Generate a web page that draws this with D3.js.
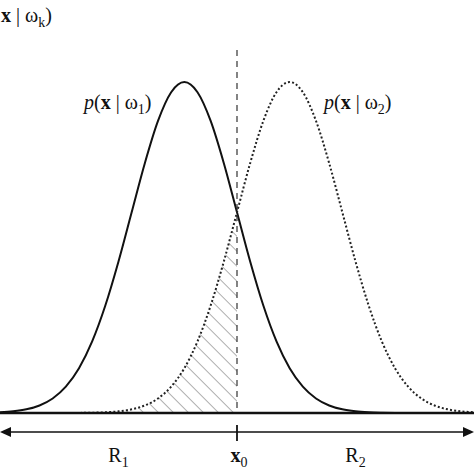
<!DOCTYPE html>
<html>
<head>
<meta charset="utf-8">
<script src="https://cdn.jsdelivr.net/npm/d3@7"></script>
<style>
  html, body { margin: 0; padding: 0; background: #fff; }
  svg { display: block; }
  text { font-family: "Liberation Serif", "DejaVu Serif", serif; fill: #111; }
</style>
</head>
<body>
<svg id="chart" width="474" height="474"></svg>
<script>
// Feature axis positions (units of standard deviation), decision boundary x0 = 0
const xs = [-4.5,-4.25,-4,-3.75,-3.5,-3.25,-3,-2.75,-2.5,-2.25,-2,-1.75,-1.5,-1.25,-1,
            -0.75,-0.5,-0.25,0,0.25,0.5,0.75,1,1.25,1.5,1.75,2,2.25,2.5,2.75,3,3.25,
            3.5,3.75,4,4.25,4.5];
// p(x | ω1) (relative height, peak = 1)
const classOne = [0.0022,0.0051,0.0111,0.0228,0.0439,0.0796,0.1353,0.2163,0.3247,0.4578,0.6065,
                  0.7548,0.8825,0.9692,1,0.9692,0.8825,0.7548,0.6065,0.4578,0.3247,0.2163,0.1353,
                  0.0796,0.0439,0.0228,0.0111,0.0051,0.0022,0.0009,0.0003,0.0001,0,0,0,0,0];
// p(x | ω2) (relative height, peak = 1)
const classTwo = [0,0,0,0,0,0.0001,0.0003,0.0009,0.0022,0.0051,0.0111,0.0228,0.0439,0.0796,
                  0.1353,0.2163,0.3247,0.4578,0.6065,0.7548,0.8825,0.9692,1,0.9692,0.8825,0.7548,
                  0.6065,0.4578,0.3247,0.2163,0.1353,0.0796,0.0439,0.0228,0.0111,0.0051,0.0022];
const boundary = 0;
const regionLabels = [{name: "R", sub: "1", at: -2.25}, {name: "R", sub: "2", at: 2.25}];

const svg = d3.select("#chart");
const W = 474;
const x = d3.scaleLinear().domain([-4.5, 4.5]).range([0, W]);
const y = d3.scaleLinear().domain([0, 1]).range([413, 82]);

const pts1 = xs.map((v, i) => ({x: v, y: classOne[i]}));
const pts2 = xs.map((v, i) => ({x: v, y: classTwo[i]}));

// hatch pattern
const defs = svg.append("defs");
const pat = defs.append("pattern")
  .attr("id", "hatch").attr("patternUnits", "userSpaceOnUse")
  .attr("width", 10.6).attr("height", 10)
  .attr("patternTransform", "rotate(-45)");
pat.append("line").attr("x1", 0).attr("y1", -1).attr("x2", 0).attr("y2", 11)
  .attr("stroke", "#7a7a7a").attr("stroke-width", 1.2);

const area = d3.area().x(d => x(d.x)).y0(y(0)).y1(d => y(d.y)).curve(d3.curveMonotoneX);
svg.append("path").datum(pts2.filter(d => d.x <= boundary))
  .attr("d", area).attr("fill", "url(#hatch)");

const line = d3.line().x(d => x(d.x)).y(d => y(d.y)).curve(d3.curveMonotoneX);
svg.append("path").datum(pts1).attr("d", line)
  .attr("fill", "none").attr("stroke", "#111").attr("stroke-width", 2);
svg.append("path").datum(pts2).attr("d", line)
  .attr("fill", "none").attr("stroke", "#222").attr("stroke-width", 2)
  .attr("stroke-dasharray", "2,2.2");

// decision boundary
svg.append("line").attr("x1", x(boundary)).attr("x2", x(boundary))
  .attr("y1", 50).attr("y2", y(0))
  .attr("stroke", "#333").attr("stroke-width", 1.2).attr("stroke-dasharray", "6,5");

// baseline
svg.append("line").attr("x1", 0).attr("x2", W).attr("y1", y(0)).attr("y2", y(0))
  .attr("stroke", "#111").attr("stroke-width", 2.5);

// region axis with arrows
const ay = 432;
svg.append("line").attr("x1", 8).attr("x2", W - 8).attr("y1", ay).attr("y2", ay)
  .attr("stroke", "#111").attr("stroke-width", 1.5);
svg.append("path").attr("d", `M0,${ay} L11,${ay - 5} L11,${ay + 5} Z`).attr("fill", "#111");
svg.append("path").attr("d", `M${W},${ay} L${W - 11},${ay - 5} L${W - 11},${ay + 5} Z`).attr("fill", "#111");
svg.append("line").attr("x1", x(boundary)).attr("x2", x(boundary)).attr("y1", 425).attr("y2", 441)
  .attr("stroke", "#111").attr("stroke-width", 1.8);

// labels
function condLabel(tx, ty, sub, anchor, withP) {
  const t = svg.append("text").attr("x", tx).attr("y", ty)
    .attr("font-size", 20).attr("text-anchor", anchor);
  if (withP) {
    t.append("tspan").attr("font-style", "italic").text("p");
    t.append("tspan").text("(");
  }
  t.append("tspan").attr("font-weight", "bold").text("x");
  t.append("tspan").text(" | ω");
  t.append("tspan").attr("font-size", 14).attr("dy", 5).text(sub);
  t.append("tspan").attr("dy", -5).text(")");
}
// top-left axis label: only the visible part of p(x | ωk) as in the figure
condLabel(1, 22, "k", "start", false);
condLabel(84, 109, "1", "start", true);
condLabel(324, 109, "2", "start", true);

regionLabels.forEach(r => {
  const t = svg.append("text").attr("x", x(r.at)).attr("y", 462)
    .attr("font-size", 20).attr("text-anchor", "middle");
  t.append("tspan").text(r.name);
  t.append("tspan").attr("font-size", 14).attr("dy", 5).text(r.sub);
});
const xt = svg.append("text").attr("x", x(boundary) + 2).attr("y", 462)
  .attr("font-size", 20).attr("text-anchor", "middle");
xt.append("tspan").attr("font-weight", "bold").text("x");
xt.append("tspan").attr("font-size", 14).attr("dy", 5).text("0");
</script>
</body>
</html>
